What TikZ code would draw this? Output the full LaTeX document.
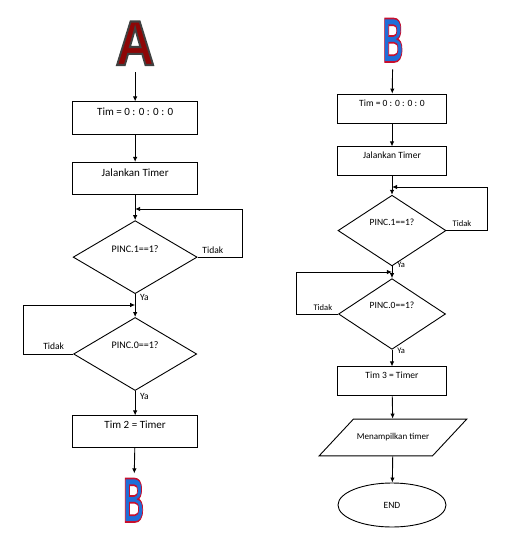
\documentclass[tikz,border=0pt]{standalone}
\usepackage{fontspec}
\usepackage{graphicx}
\setmainfont{Carlito}
\newfontfamily\artfont{Liberation Sans}
\usetikzlibrary{shapes.geometric,arrows.meta}
\definecolor{artred}{HTML}{8E0606}
\definecolor{artblue}{HTML}{1F6ED8}
% #1 fill colour, #2 stroke as rgb, #3 stroke width, #4 letter
\newcommand{\artletter}[4]{\textcolor{#1}{\special{pdf:literal direct 2 Tr #3 w #2 RG}#4\special{pdf:literal direct 0 Tr 0.4 w}}}

\begin{document}
\begin{tikzpicture}[
  box/.style={rectangle,draw,line width=0.9pt,inner ysep=0pt,
    text height=8pt,text depth=13pt},
  boxL/.style={box,minimum width=4.38cm,minimum height=1.13cm,
    font=\fontsize{11}{13}\selectfont},
  boxR/.style={box,minimum width=3.815cm,minimum height=1.015cm,
    font=\fontsize{9.5}{11}\selectfont},
  cond/.style={diamond,draw,line width=0.9pt,inner sep=0pt,
    text height=8pt,text depth=18pt},
  lbl/.style={inner sep=0pt},
  art/.style={inner sep=0.25cm,font=\artfont\bfseries\fontsize{63}{63}\selectfont},
  arr/.style={->,line width=0.9pt,>={Latex[length=5pt,width=4.5pt]}}]

  \useasboundingbox (0,0) rectangle (18.13,-18.655);

  % kolom A
  \node[art,anchor=base] (A) at (4.73,-2.275)
    {\scalebox{0.85}[1]{\artletter{artred}{0.25 0.25 0.25}{2.2}{A}}};
  \node[boxL] (tim0) at (4.73,-4.13) {Tim = 0 : 0 : 0 : 0};
  \node[boxL] (jalan) at (4.73,-6.25) {Jalankan Timer};
  \node[cond,minimum width=4.34cm,minimum height=2.415cm,
    font=\fontsize{10}{12}\selectfont] (cek1) at (4.73,-9.0) {PINC.1==1?};
  \node[cond,minimum width=4.31cm,minimum height=2.415cm,
    font=\fontsize{10}{12}\selectfont] (cek0) at (4.73,-12.39) {PINC.0==1?};
  \node[boxL,minimum height=1.09cm] (tim2) at (4.73,-15.10) {Tim 2 = Timer};
  \node[art,anchor=base,inner sep=0.05cm] (Bbawah) at (4.68,-18.27)
    {\scalebox{0.45}[1]{\artletter{artblue}{0.78 0.06 0.18}{1.6}{B}}};

  \coordinate (j1) at (4.73,-7.315);
  \coordinate (j2) at (4.73,-10.675);

  \node[lbl,font=\fontsize{9.5}{11}\selectfont] (tidak1) at (7.45,-8.75) {Tidak};
  \node[lbl,anchor=west,font=\fontsize{9.5}{11}\selectfont] (ya1) at (4.9,-10.4) {Ya};
  \node[lbl,font=\fontsize{9.5}{11}\selectfont] (tidak0) at (1.88,-12.13) {Tidak};
  \node[lbl,anchor=west,font=\fontsize{9.5}{11}\selectfont] (ya0) at (4.9,-13.86) {Ya};

  \draw[arr] (A) -- (tim0);
  \draw[arr] (tim0) -- (jalan);
  \draw[arr] (jalan) -- (cek1);
  \draw[arr] (cek1.east) -- ++(1.57,0) |- (j1);
  \draw[arr] (cek1) -- (cek0);
  \draw[arr] (cek0.west) -- ++(-1.735,0) |- (j2);
  \draw[arr] (cek0) -- (tim2);
  \draw[arr,shorten >=0.12cm] (tim2) -- (Bbawah);

  % kolom B
  \node[art,anchor=base] (Batas) at (13.755,-2.17)
    {\scalebox{0.45}[1]{\artletter{artblue}{0.78 0.06 0.18}{1.6}{B}}};
  \node[boxR] (tim0b) at (13.72,-3.80) {Tim = 0 : 0 : 0 : 0};
  \node[boxR] (jalanb) at (13.72,-5.65) {Jalankan Timer};
  \node[cond,minimum width=3.78cm,minimum height=2.135cm,
    font=\fontsize{9.5}{11}\selectfont] (cek1b) at (13.72,-8.07) {PINC.1==1?};
  \node[cond,minimum width=3.745cm,minimum height=2.17cm,
    font=\fontsize{9.5}{11}\selectfont] (cek0b) at (13.72,-10.99) {PINC.0==1?};
  \node[boxR] (tim3) at (13.72,-13.35) {Tim 3 = Timer};
  \node[trapezium,draw,line width=0.9pt,trapezium left angle=47,
    trapezium right angle=133,trapezium stretches body,
    text height=7pt,text depth=2pt,inner ysep=0.485cm,
    minimum width=5.11cm,
    font=\fontsize{9}{11}\selectfont] (tampil) at (13.755,-15.31) {Menampilkan timer};
  \node[ellipse,draw,line width=0.9pt,minimum width=3.78cm,minimum height=1.54cm,
    font=\fontsize{9.5}{11}\selectfont] (selesai) at (13.72,-17.675) {END};

  \coordinate (j3) at (13.72,-6.545);
  \coordinate (j4) at (13.72,-9.52);

  \node[lbl,font=\fontsize{8.5}{10}\selectfont] (tidak1b) at (16.17,-7.84) {Tidak};
  \node[lbl,anchor=west,font=\fontsize{8.5}{10}\selectfont] (ya1b) at (13.9,-9.275) {Ya};
  \node[lbl,font=\fontsize{8.5}{10}\selectfont] (tidak0b) at (11.3,-10.78) {Tidak};
  \node[lbl,anchor=west,font=\fontsize{8.5}{10}\selectfont] (ya0b) at (13.9,-12.27) {Ya};

  \draw[arr] (Batas) -- (tim0b);
  \draw[arr] (tim0b) -- (jalanb);
  \draw[arr] (jalanb) -- (cek1b);
  \draw[arr] (cek1b.east) -- ++(1.435,0) |- (j3);
  \draw[arr] (cek1b) -- (cek0b);
  \draw[arr] (cek0b.west) -- ++(-1.45,0) |- (j4);
  \draw[arr] (cek0b) -- (tim3);
  \draw[arr] (tim3) -- (tampil);
  \draw[arr] (tampil) -- (selesai);
\end{tikzpicture}
\end{document}
